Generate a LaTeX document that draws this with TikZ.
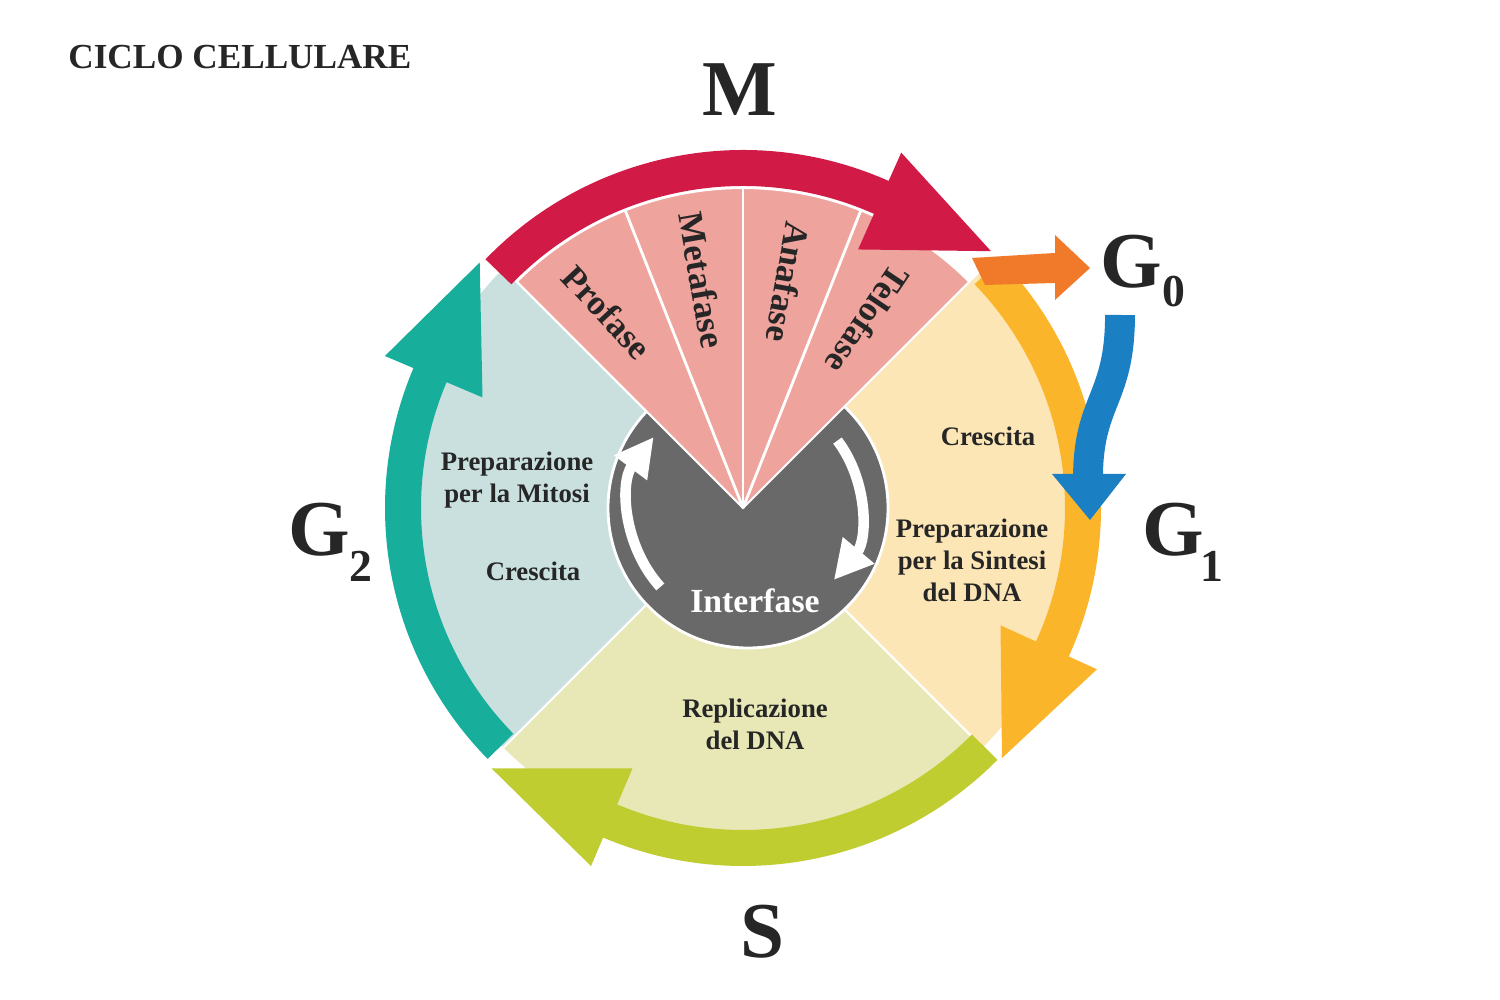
\documentclass[tikz,border=0pt]{standalone}
\usepackage{fontspec}
\setmainfont{Liberation Serif}
\usetikzlibrary{calc,arrows.meta}
\definecolor{mpink}{HTML}{EFA39D}
\definecolor{mred}{HTML}{D21A46}
\definecolor{gcream}{HTML}{FDE6B6}
\definecolor{gorange}{HTML}{FBB52A}
\definecolor{gblue}{HTML}{C9E0DE}
\definecolor{gteal}{HTML}{18AE9C}
\definecolor{sgreen}{HTML}{E7E8B6}
\definecolor{sarrow}{HTML}{BFCD30}
\definecolor{igray}{HTML}{696969}
\definecolor{oarrow}{HTML}{F07A2A}
\definecolor{barrow}{HTML}{1B7FC4}
\newcommand{\bandarrow}[5]{%
\fill[#1] ($(C)+(#2:322)$) arc[start angle=#2,end angle=#3,radius=322]
  -- ($(C)+(#3:283)$) -- ($(C)+(#4:#5)$) -- ($(C)+(#3:389)$)
  -- ($(C)+(#3:358)$) arc[start angle=#3,end angle=#2,radius=358] -- cycle;}

\begin{document}
\begin{tikzpicture}[x=0.01cm,y=0.01cm,
  small/.style={font=\fontsize{7.6}{9.1}\selectfont\bfseries,align=center,text=black!85},
  big/.style={font=\fontsize{22.5}{24}\selectfont\bfseries,text=black!85},
  sub/.style={font=\fontsize{13}{14}\selectfont\bfseries,text=black!85},
  phase/.style={font=\fontsize{10}{12}\selectfont\bfseries,text=black!85},
  sector/.style={draw=white,line width=0.6pt}]
\useasboundingbox (0,0) rectangle (1500,1000);
\coordinate (C) at (743,492);
\coordinate (I) at (748,492);
% sectors
\filldraw[sector,fill=gcream] (C) -- ($(C)+(45:340)$) arc[start angle=45,end angle=-45,radius=340] -- cycle;
\filldraw[sector,fill=sgreen] (C) -- ($(C)+(-45:340)$) arc[start angle=-45,end angle=-135,radius=340] -- cycle;
\filldraw[sector,fill=gblue] (C) -- ($(C)+(135:340)$) arc[start angle=135,end angle=225,radius=340] -- cycle;
% interfase
\filldraw[fill=igray,draw=white,line width=0.8pt] (I) circle[radius=140];
\draw[white,line width=3pt,-{Triangle[width=11pt,length=11pt]}] ($(I)+(222:118)$) arc[start angle=222,end angle=143,radius=118];
\draw[white,line width=3pt,-{Triangle[width=11pt,length=11pt]}] ($(I)+(37:112)$) arc[start angle=37,end angle=-40,radius=112];
\node[font=\fontsize{9.6}{11}\selectfont\bfseries,text=white] (interfase) at (755,399) {Interfase};
% mitosi
\filldraw[sector,fill=mpink] (C) -- ($(C)+(135:320)$) arc[start angle=135,end angle=45,radius=320] -- cycle;
\foreach \a in {111.6,90,68.4}
  \draw[white,line width=0.8pt] (C) -- ($(C)+(\a:320)$);
\node[phase,rotate=-47] (profase) at (607,688) {Profase};
\node[phase,rotate=-80] (metafase) at (702,720) {Metafase};
\node[phase,rotate=-100] (anafase) at (788,718) {Anafase};
\node[phase,rotate=-124] (telofase) at (868,680) {Telofase};
% outer arrows
\bandarrow{mred}{136}{66}{46}{357}
\bandarrow{gteal}{224.5}{157}{137}{360}
\bandarrow{sarrow}{-44.7}{-113}{-134}{362}
\bandarrow{gorange}{44}{-24.5}{-44}{360}
% G0 arrows
\fill[oarrow] (972,742) -- (1055,747) -- (1055,765) -- (1090,732) -- (1055,700) -- (1055,717) -- (985,715) -- cycle;
\draw[barrow,line width=8.5pt] (1120,685) .. controls (1120,600) and (1088,600) .. (1088,522);
\fill[barrow] (1052,526) -- (1126,526) -- (1090,480) -- cycle;
% labels
\node[font=\fontsize{10}{12}\selectfont\bfseries,anchor=west,text=black!85] (title) at (56,943) {CICLO CELLULARE};
\node[big] (M) at (740,910) {M};
\node[big] (S) at (762,68) {S};
\node[big] (G0) at (1131,738) {G};
\node[sub] at (1174,708) {0};
\node[big] (G1) at (1173,470) {G};
\node[sub] at (1212,434) {1};
\node[big] (G2) at (319,470) {G};
\node[sub] at (361,434) {2};
\node[small] (prepM) at (517,520) {Preparazione\\per la Mitosi};
\node[small] (crescG2) at (533,429) {Crescita};
\node[small] (crescG1) at (988,564) {Crescita};
\node[small] (prepS) at (972,440) {Preparazione\\per la Sintesi\\del DNA};
\node[small] (repl) at (755,276) {Replicazione\\del DNA};
\end{tikzpicture}
\end{document}
